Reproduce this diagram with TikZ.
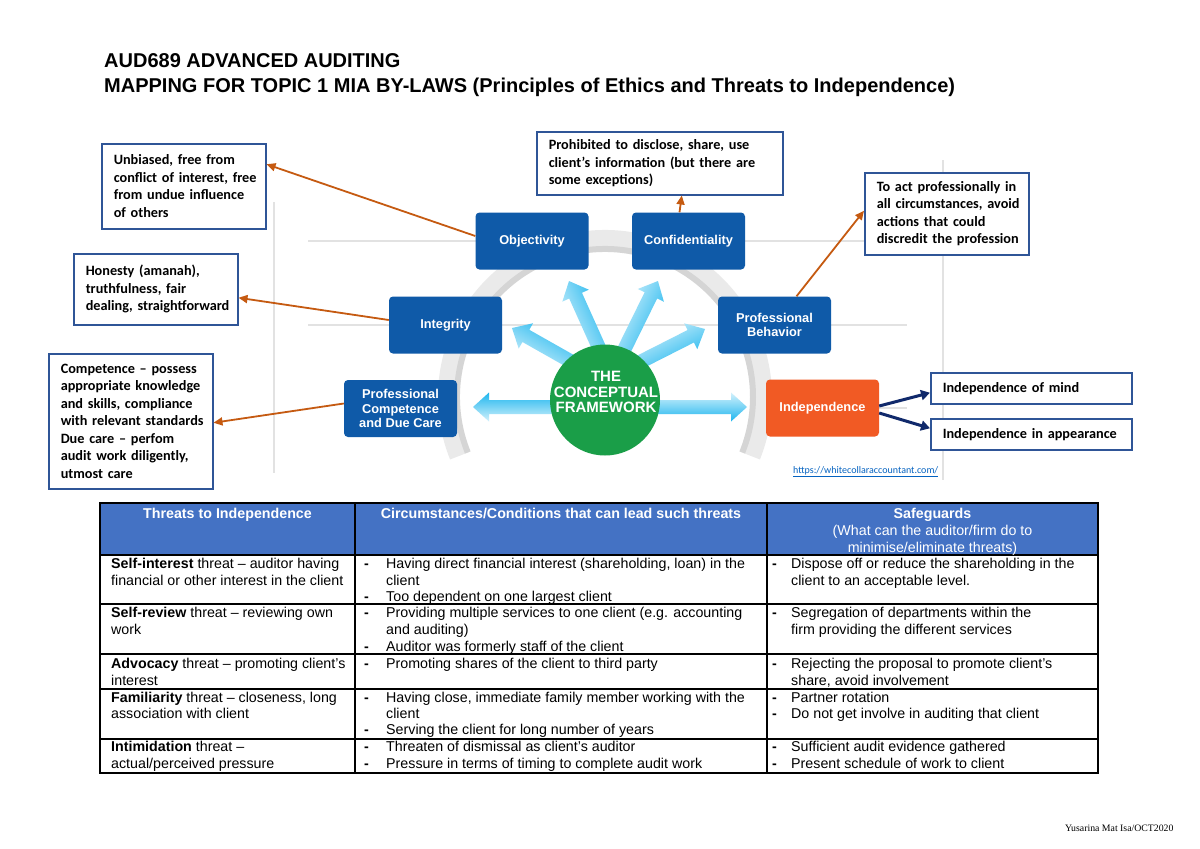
\documentclass[tikz,border=0pt]{standalone}
\usepackage{fontspec}
\setmainfont{Liberation Sans}
\newfontfamily\calfont{Carlito}
\newfontfamily\serfont{Liberation Serif}
\usetikzlibrary{arrows.meta,shapes.geometric,calc}
\definecolor{fwblue}{HTML}{0F5AA8}
\definecolor{indorange}{HTML}{F15A24}
\definecolor{cfgreen}{HTML}{1A9E48}
\definecolor{cyd}{HTML}{1DB6EE}
\definecolor{cyl}{HTML}{D4F1FC}
\definecolor{annblue}{HTML}{2F5597}
\definecolor{orangec}{HTML}{C55A11}
\definecolor{navyc}{HTML}{10296B}
\definecolor{thead}{HTML}{4472C4}
\definecolor{bggray}{HTML}{E2E2E2}
\definecolor{arcl}{HTML}{EAEAEA}
\definecolor{arcd}{HTML}{D5D5D5}
\definecolor{linkblue}{HTML}{0563C1}
\newcommand\lnx[1]{\mbox{#1}}
\newcommand\tl[4]{\node[tline] (#1) at (#2,#3) {#4};}
\newcommand\bul[3]{\node[tline] (#1) at (#2,#3) {\textbf{-}};}
\newcommand\cyarr[4]{%
  \begin{scope}[shift={(#1)},rotate=#2]
  \shade[shading=axis,left color=cyl,right color=cyd,shading angle=#4]
    (0,-7) -- ({#3-16},-7) -- ({#3-16},-14.5) -- (#3,0) -- ({#3-16},14.5) -- ({#3-16},7) -- (0,7) -- cycle;
  \end{scope}}
\begin{document}
\begin{tikzpicture}[x=1pt,y=-1pt,
  title/.style={anchor=base west,inner sep=0,font=\bfseries\fontsize{20}{24}\selectfont},
  bgline/.style={draw=bggray,line width=2pt},
  fw/.style={fill=fwblue,rounded corners=4pt,minimum width=113pt,minimum height=57pt,inner sep=0pt,text=white,font=\bfseries\fontsize{12.8}{14.8}\selectfont,align=center},
  ann/.style={draw=annblue,line width=1.5pt,fill=white,font=\calfont\bfseries\fontsize{14.25}{17.5}\selectfont,align=left,inner xsep=12pt,inner ysep=0pt,anchor=north west},
  oarr/.style={draw=orangec,line width=1.8pt,-{Triangle[length=9pt,width=8pt]}},
  narr/.style={draw=navyc,line width=3pt,-{Triangle[length=9pt,width=10pt]}},
  tline/.style={anchor=base west,inner sep=0pt,font=\fontsize{14.25}{17}\selectfont},
  th/.style={anchor=base,inner sep=0pt,text=white,font=\bfseries\fontsize{14.25}{17}\selectfont},
  thn/.style={anchor=base,inner sep=0pt,text=white,font=\fontsize{14.25}{17}\selectfont}]
\useasboundingbox[fill=white] (0,0) rectangle (1200,849);

% title
\node[title] (t1) at (104,67) {AUD689 ADVANCED AUDITING};
\node[title] (t2) at (104,92) {MAPPING FOR TOPIC 1 MIA BY-LAWS (Principles of Ethics and Threats to Independence)};

% background of the slide
\draw[bgline] (308,241) -- (907,241);
\draw[bgline] (308,325) -- (907,325);
\draw[bgline] (830,408) -- (907,408);
\draw[bgline] (274,202) -- (274,473);
\draw[bgline] (943,160) -- (943,480);
\draw[line width=20pt,arcl] (605,397) ++(158:157) arc[start angle=158,end angle=382,radius=157];
\draw[line width=6pt,arcd] (605,397) ++(158:148) arc[start angle=158,end angle=382,radius=148];

% cyan arrows
\cyarr{555,407}{180}{82}{180}
\cyarr{655,407}{0}{92}{0}
\cyarr{600,350}{114.2}{75.6}{114.2}
\cyarr{624,350}{63.8}{76.9}{63.8}
\cyarr{572,362}{150.5}{69}{150.5}
\cyarr{640,362}{26.9}{72.9}{26.9}

% centre
\node[ellipse,fill=cfgreen,minimum width=110pt,minimum height=111pt,inner sep=0pt] (cf) at (605,400) {};
\node[align=center,text=white,font=\bfseries\fontsize{15}{15.5}\selectfont,inner sep=0pt] (cft) at (606,392) {THE\\CONCEPTUAL\\FRAMEWORK};

% principle boxes
\node[fw] (obj) at (532,241) {Objectivity};
\node[fw] (conf) at (688.5,241) {Confidentiality};
\node[fw] (integ) at (445.5,325) {Integrity};
\node[fw] (pb) at (774.5,325) {Professional\\Behavior};
\node[fw] (comp) at (400.5,408.5) {Professional\\Competence\\and Due Care};
\node[fw,fill=indorange] (ind) at (822.5,408) {Independence};

% annotation boxes
\node[ann,minimum width=164pt,minimum height=85pt,text width=140pt] (unb) at (101,143)
  {\lnx{Unbiased, free from}\\\lnx{conflict of interest, free}\\\lnx{from undue influence}\\\lnx{of others}};
\node[ann,minimum width=164pt,minimum height=71pt,text width=140pt] (hon) at (73,253)
  {\lnx{Honesty (amanah),}\\\lnx{truthfulness, fair}\\\lnx{dealing, straightforward}};
\node[ann,minimum width=164pt,minimum height=135pt,text width=140pt] (compt) at (48,353)
  {\lnx{Competence – possess}\\\lnx{appropriate knowledge}\\\lnx{and skills, compliance}\\\lnx{with relevant standards}\\\lnx{Due care – perfom}\\\lnx{audit work diligently,}\\\lnx{utmost care}};
\node[ann,minimum width=246pt,minimum height=63pt,text width=222pt] (proh) at (536,131)
  {\lnx{Prohibited to disclose, share, use}\\\lnx{client’s information (but there are}\\\lnx{some exceptions)}};
\node[ann,minimum width=164pt,minimum height=82pt,text width=140pt] (toact) at (864,172)
  {\lnx{To act professionally in}\\\lnx{all circumstances, avoid}\\\lnx{actions that could}\\\lnx{discredit the profession}};
\node[ann,minimum width=201pt,minimum height=31pt,text width=177pt] (mind) at (930,372) {Independence of mind};
\node[ann,minimum width=201pt,minimum height=31pt,text width=177pt] (app) at (930,418) {Independence in appearance};

% connectors
\draw[oarr] ([yshift=5pt]obj.west) -- ([yshift=22pt]unb.east);
\draw[oarr] ([yshift=5pt]integ.west) -- ([yshift=-8.5pt]hon.east);
\draw[oarr] ([yshift=5pt]comp.west) -- ([yshift=-1.5pt]compt.east);
\draw[oarr] ([xshift=-9pt]conf.north) -- ([xshift=22pt]proh.south);
\draw[oarr] ([xshift=22pt]pb.north) -- ([yshift=3pt]toact.west);
\draw[narr] ([yshift=2pt]ind.east) -- ([yshift=-4.5pt]mind.west);
\draw[narr] ([yshift=-5pt]ind.east) -- ([yshift=6pt]app.west);

% link and footer
\node[anchor=base west,inner sep=0pt,text=linkblue,font=\calfont\fontsize{10}{12}\selectfont] (link) at (793,473) {\underline{https://whitecollaraccountant.com/}};
\node[anchor=base west,inner sep=0pt,font=\serfont\fontsize{9.8}{12}\selectfont] (foot) at (1065,831) {Yusarina Mat Isa/OCT2020};

% table
\fill[thead] (100,503) rectangle (1098,555);
\foreach \yy in {555,604,654,689,739} \draw[line width=1.5pt] (100,\yy) -- (1098,\yy);
\draw[line width=1.5pt] (355,503) -- (355,773);
\draw[line width=1.5pt] (767,503) -- (767,773);
\draw[line width=2.5pt] (100,503) rectangle (1098,773);

\node[th] (h1) at (227.5,518) {Threats to Independence};
\node[th] (h2) at (561,518) {Circumstances/Conditions that can lead such threats};
\node[th] (h3) at (932.5,518) {Safeguards};
\node[thn] (h3b) at (932.5,535) {(What can the auditor/firm do to};
\node[thn] (h3c) at (932.5,552) {minimise/eliminate threats)};

% row 1
\tl{r1a}{111}{568}{\textbf{Self-interest} threat – auditor having}
\tl{r1b}{111}{585}{financial or other interest in the client}
\bul{r1c}{364}{568}
\tl{r1d}{386}{568}{Having direct financial interest (shareholding, loan) in the}
\tl{r1e}{386}{585}{client}
\bul{r1f}{364}{601}
\tl{r1g}{386}{601}{Too dependent on one largest client}
\bul{r1h}{772}{568}
\tl{r1i}{791}{568}{Dispose off or reduce the shareholding in the}
\tl{r1j}{791}{585}{client to an acceptable level.}
% row 2
\tl{r2a}{111}{617}{\textbf{Self-review} threat – reviewing own}
\tl{r2b}{111}{634}{work}
\bul{r2c}{364}{617}
\tl{r2d}{386}{617}{Providing multiple services to one client (e.g. accounting}
\tl{r2e}{386}{634}{and auditing)}
\bul{r2f}{364}{651}
\tl{r2g}{386}{651}{Auditor was formerly staff of the client}
\bul{r2h}{772}{617}
\tl{r2i}{791}{617}{Segregation of departments within the}
\tl{r2j}{791}{634}{firm providing the different services}
% row 3
\tl{r3a}{111}{668}{\textbf{Advocacy} threat – promoting client’s}
\tl{r3b}{111}{685}{interest}
\bul{r3c}{364}{668}
\tl{r3d}{386}{668}{Promoting shares of the client to third party}
\bul{r3h}{772}{668}
\tl{r3i}{791}{668}{Rejecting the proposal to promote client’s}
\tl{r3j}{791}{685}{share, avoid involvement}
% row 4
\tl{r4a}{111}{702}{\textbf{Familiarity} threat – closeness, long}
\tl{r4b}{111}{718}{association with client}
\bul{r4c}{364}{702}
\tl{r4d}{386}{702}{Having close, immediate family member working with the}
\tl{r4e}{386}{718}{client}
\bul{r4f}{364}{734}
\tl{r4g}{386}{734}{Serving the client for long number of years}
\bul{r4h}{772}{702}
\tl{r4i}{791}{702}{Partner rotation}
\bul{r4k}{772}{718}
\tl{r4j}{791}{718}{Do not get involve in auditing that client}
% row 5
\tl{r5a}{111}{751}{\textbf{Intimidation} threat –}
\tl{r5b}{111}{768}{actual/perceived pressure}
\bul{r5c}{364}{751}
\tl{r5d}{386}{751}{Threaten of dismissal as client’s auditor}
\bul{r5f}{364}{768}
\tl{r5g}{386}{768}{Pressure in terms of timing to complete audit work}
\bul{r5h}{772}{751}
\tl{r5i}{791}{751}{Sufficient audit evidence gathered}
\bul{r5k}{772}{768}
\tl{r5j}{791}{768}{Present schedule of work to client}
\end{tikzpicture}
\end{document}
